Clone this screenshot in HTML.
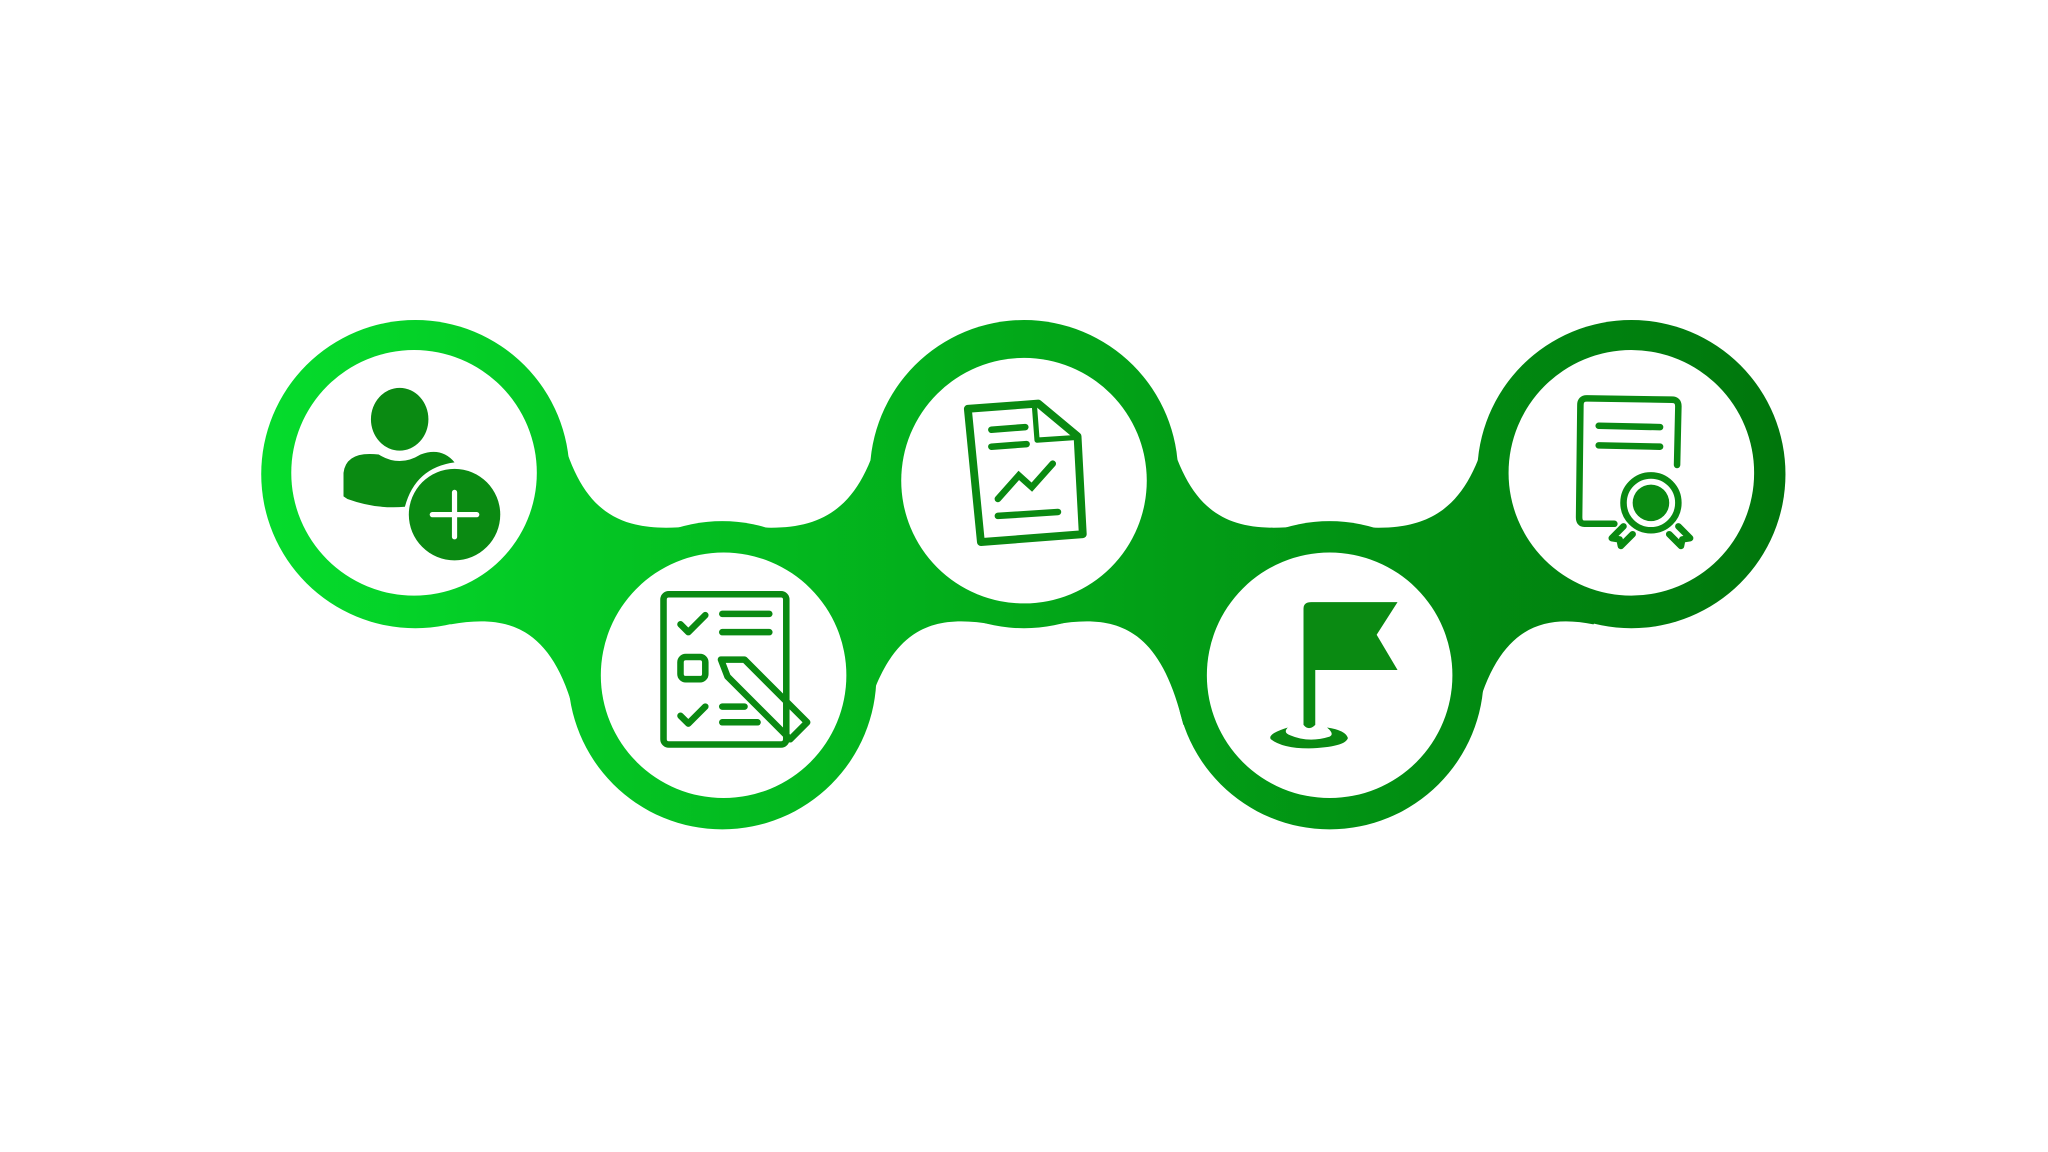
<!DOCTYPE html>
<html><head><meta charset="utf-8"><style>
html,body{margin:0;padding:0;background:#fff;width:2048px;height:1152px;overflow:hidden}
svg{display:block}
</style></head><body>
<svg width="2048" height="1152" viewBox="0 0 1568 882" xmlns="http://www.w3.org/2000/svg">
<defs>
<linearGradient id="g" x1="200" y1="0" x2="1366" y2="0" gradientUnits="userSpaceOnUse">
<stop offset="0" stop-color="#05dc2c"/>
<stop offset="0.5" stop-color="#02a819"/>
<stop offset="1" stop-color="#00760c"/>
</linearGradient>
</defs>
<g fill="url(#g)">
<path d="M318 430 L420 320 L428 325 C446 400 480 412 550 400 C620 412 657 400 675 325 L680 320 L784 430 L888 320 L893 325 C912 400 945 412 1015 400 C1085 412 1122 400 1140 325 L1145 320 L1249 430 L1249 440 L1220 478 C1180 470 1145 480 1128 555 L1018 517 L906 555 C888 480 855 470 808 478 Q784 483 760 478 C713 470 680 480 661 555 L553 517 L442 555 C425 480 390 470 345 478 L318 440 Z"/>
<circle cx="318" cy="363" r="118"/>
<circle cx="553" cy="517" r="118"/>
<circle cx="784" cy="363" r="118"/>
<circle cx="1018" cy="517" r="118"/>
<circle cx="1249" cy="363" r="118"/>
</g>
<g fill="#fff">
<circle cx="317" cy="362" r="94"/>
<circle cx="554" cy="517" r="94"/>
<circle cx="784" cy="368" r="94"/>
<circle cx="1018" cy="517" r="94"/>
<circle cx="1249" cy="362" r="94"/>
</g>
<g fill="#0a8a12">
<ellipse cx="306" cy="321" rx="22" ry="24"/>
<path d="M263 380 L263 362 Q265 345 290 348 Q306 358 322 348 Q338 342 348 354 Q318 358 310 388 Q288 390 266 382 Z"/>
<circle cx="348" cy="394" r="35"/>
</g>
<g stroke="#fff" stroke-width="4" stroke-linecap="round"><line x1="348" y1="377" x2="348" y2="411"/><line x1="331" y1="394" x2="365" y2="394"/></g>
<g fill="none" stroke="#0a8a12" stroke-width="5" stroke-linecap="round" stroke-linejoin="round">
<rect x="508" y="455" width="94" height="115" rx="4"/>
<path d="M521 478 l6 6 l13 -13"/><line x1="553" y1="470" x2="589" y2="470"/><line x1="553" y1="484" x2="589" y2="484"/>
<rect x="521" y="503" width="19" height="17" rx="4"/>
<path d="M521 548 l6 6 l13 -13"/><line x1="553" y1="541" x2="570" y2="541"/><line x1="553" y1="553" x2="580" y2="553"/>
<path d="M552 505 L570 505 L618 553 L605 566 L557 518 Z"/>
</g>
<g fill="none" stroke="#0a8a12" stroke-width="6" stroke-linejoin="round">
<path d="M741 313 L795 309 L825 334 L829 409 L751 415 Z"/>
<path d="M792 311 L794 337 L823 335" stroke-width="4"/>
</g>
<g stroke="#0a8a12" stroke-width="5" stroke-linecap="round" fill="none">
<line x1="759" y1="329" x2="785" y2="327"/><line x1="759" y1="342" x2="786" y2="340"/>
<path d="M764 382 l16 -18 l10 9 l16 -18"/><line x1="764" y1="395" x2="810" y2="392"/>
</g>
<g fill="#0a8a12">
<path d="M998 466 Q998 461 1004 461 L1070 461 L1054 486 L1070 513 L1007 513 L1007 555 Q1002 560 998 555 Z"/>
<path d="M986 557 Q970 562 973 566 Q982 573 1002 573 Q1030 572 1032 565 Q1030 559 1016 557 Q1022 562 1018 564 Q1002 569 988 563 Q982 561 986 557 Z"/>
</g>
<g fill="none" stroke="#0a8a12" stroke-width="5" stroke-linecap="round" stroke-linejoin="round">
<path d="M1236 401 L1213 401 Q1209 401 1209 396 L1210 310 Q1210 305 1215 305 L1280 306 Q1285 306 1285 311 L1284 356"/>
<line x1="1224" y1="326" x2="1271" y2="327"/><line x1="1224" y1="341" x2="1271" y2="342"/>
<circle cx="1264" cy="385" r="21"/>
<path d="M1243 403 l-9 9 l6 1 l1 5 l9 -9 M1285 403 l9 9 l-6 1 l-1 5 l-9 -9"/>
</g>
<circle cx="1264" cy="385" r="14" fill="#0a8a12"/>
</svg>
</body></html>
